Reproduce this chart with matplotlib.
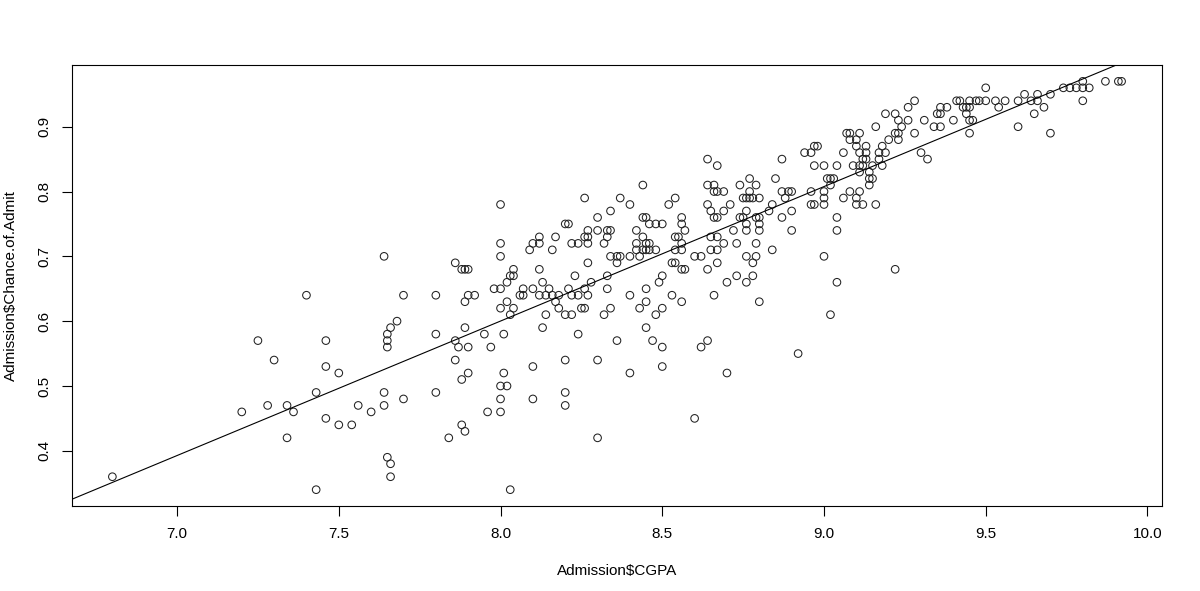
import numpy as np
import matplotlib
matplotlib.use('Agg')
import matplotlib.pyplot as plt

# values (CGPA, chance of admit)
cgpa = [
    6.80, 7.20, 7.25, 7.28, 7.30, 7.34, 7.34, 7.36, 7.40, 7.43, 7.43, 7.46, 7.46, 7.46,
    7.50, 7.50, 7.54, 7.56, 7.60, 7.64, 7.64, 7.64, 7.65, 7.65, 7.65, 7.65, 7.66, 7.66,
    7.66, 7.68, 7.70, 7.70, 7.80, 7.80, 7.80, 7.84, 7.86, 7.86, 7.86, 7.87, 7.88, 7.88,
    7.88, 7.89, 7.89, 7.89, 7.89, 7.90, 7.90, 7.90, 7.90, 7.92,
    8.00, 8.26, 8.30, 8.20, 8.21, 8.00, 8.10, 8.12, 8.09, 8.12, 8.17, 8.16, 8.22, 8.24,
    8.27, 8.26, 8.27, 8.27, 8.30, 8.00, 8.27, 8.04, 8.03, 8.04, 8.12, 8.02, 8.13, 8.23,
    8.28, 7.98, 8.00, 8.07, 8.06, 8.07, 8.10, 8.15, 8.12, 8.14, 8.16, 8.18, 8.21, 8.22,
    8.24, 8.26, 8.27, 8.00, 8.02, 8.04, 8.17, 8.18, 8.03, 8.14, 8.20, 8.22, 8.25, 8.26,
    8.13, 7.95, 8.01, 8.24, 7.97,
    8.01, 8.10, 8.20, 8.30, 8.00, 8.02, 8.00, 8.10, 8.20, 8.20, 7.96, 8.00, 8.30, 8.03,
    8.64, 8.67, 8.44, 8.64, 8.66, 8.66, 8.67, 8.37, 8.54, 8.40, 8.52, 8.64, 8.65, 8.34,
    8.44, 8.45, 8.56, 8.66, 8.67, 8.46, 8.48, 8.50, 8.56, 8.57, 8.33, 8.34, 8.42, 8.33,
    8.44, 8.54, 8.55, 8.32, 8.42, 8.45, 8.46, 8.56, 8.65, 8.67, 8.42, 8.44, 8.45, 8.46,
    8.48, 8.54, 8.56, 8.65, 8.67, 8.34, 8.36, 8.37, 8.40, 8.43, 8.36, 8.60, 8.62, 8.53,
    8.54, 8.67, 8.33, 8.50, 8.49, 8.56, 8.57, 8.64, 8.33, 8.45, 8.40, 8.53, 8.66,
    8.56, 8.45, 8.34, 8.43, 8.50, 8.32, 8.48, 8.45, 8.36, 8.47, 8.50, 8.62, 8.64, 8.40,
    8.50, 8.60,
    8.97, 8.98, 8.94, 8.96, 8.87, 8.97, 9.00, 9.04, 8.77, 8.85, 8.74, 8.79, 9.01, 9.02,
    9.03, 8.69, 8.77, 8.87, 8.89, 8.90, 8.96, 9.00, 9.02, 8.75, 8.76, 8.77, 8.78, 8.80,
    8.88, 9.00, 8.71, 8.84, 8.96, 8.97, 9.00, 8.69, 8.76, 8.83, 8.90, 8.74, 8.75, 8.79,
    8.80, 8.87, 9.04, 8.76, 8.80, 8.72, 8.76, 8.80, 8.90, 9.04, 8.69, 8.73, 8.79, 8.84,
    8.76, 8.79, 9.00, 8.78, 8.73, 8.78, 8.70, 8.76, 9.04, 8.80, 9.02, 8.92, 8.70,
    9.28, 9.26, 9.36, 9.38, 9.41, 9.19, 9.22, 9.35, 9.36, 9.23, 9.26, 9.31, 9.40, 9.16,
    9.24, 9.34, 9.36, 9.07, 9.08, 9.11, 9.22, 9.23, 9.28, 9.08, 9.10, 9.20, 9.23, 9.10,
    9.13, 9.18, 9.06, 9.11, 9.13, 9.17, 9.19, 9.30, 9.12, 9.13, 9.17, 9.32, 9.09, 9.11,
    9.12, 9.15, 9.18, 9.11, 9.14, 9.14, 9.15, 9.14, 9.08, 9.11, 9.06, 9.10, 9.10, 9.12,
    9.16, 9.22,
    9.87, 9.91, 9.92, 9.80, 9.74, 9.76, 9.78, 9.80, 9.82, 9.50, 9.62, 9.66, 9.70, 9.42,
    9.45, 9.47, 9.48, 9.50, 9.53, 9.56, 9.60, 9.64, 9.66, 9.80, 9.43, 9.44, 9.45, 9.54,
    9.68, 9.44, 9.65, 9.45, 9.46, 9.60, 9.45, 9.70,
]
chance = [
    0.36, 0.46, 0.57, 0.47, 0.54, 0.47, 0.42, 0.46, 0.64, 0.34, 0.49, 0.57, 0.45, 0.53,
    0.44, 0.52, 0.44, 0.47, 0.46, 0.70, 0.47, 0.49, 0.56, 0.57, 0.58, 0.39, 0.38, 0.36,
    0.59, 0.60, 0.64, 0.48, 0.64, 0.58, 0.49, 0.42, 0.69, 0.57, 0.54, 0.56, 0.68, 0.51,
    0.44, 0.68, 0.63, 0.59, 0.43, 0.68, 0.64, 0.56, 0.52, 0.64,
    0.78, 0.79, 0.76, 0.75, 0.75, 0.72, 0.72, 0.73, 0.71, 0.72, 0.73, 0.71, 0.72, 0.72,
    0.73, 0.73, 0.74, 0.72, 0.74, 0.70, 0.69, 0.68, 0.67, 0.67, 0.68, 0.66, 0.66, 0.67,
    0.66, 0.65, 0.65, 0.65, 0.64, 0.64, 0.65, 0.65, 0.64, 0.64, 0.64, 0.64, 0.65, 0.64,
    0.64, 0.65, 0.64, 0.62, 0.63, 0.62, 0.63, 0.62, 0.61, 0.61, 0.61, 0.61, 0.62, 0.62,
    0.59, 0.58, 0.58, 0.58, 0.56,
    0.52, 0.53, 0.54, 0.54, 0.50, 0.50, 0.48, 0.48, 0.49, 0.47, 0.46, 0.46, 0.42, 0.34,
    0.85, 0.84, 0.81, 0.81, 0.81, 0.80, 0.80, 0.79, 0.79, 0.78, 0.78, 0.78, 0.77, 0.77,
    0.76, 0.76, 0.76, 0.76, 0.76, 0.75, 0.75, 0.75, 0.75, 0.74, 0.74, 0.74, 0.74, 0.73,
    0.73, 0.73, 0.73, 0.72, 0.72, 0.72, 0.72, 0.72, 0.73, 0.73, 0.71, 0.71, 0.71, 0.71,
    0.71, 0.71, 0.71, 0.71, 0.71, 0.70, 0.70, 0.70, 0.70, 0.70, 0.69, 0.70, 0.70, 0.69,
    0.69, 0.69, 0.67, 0.67, 0.66, 0.68, 0.68, 0.68, 0.65, 0.65, 0.64, 0.64, 0.64,
    0.63, 0.63, 0.62, 0.62, 0.62, 0.61, 0.61, 0.59, 0.57, 0.57, 0.56, 0.56, 0.57, 0.52,
    0.53, 0.45,
    0.87, 0.87, 0.86, 0.86, 0.85, 0.84, 0.84, 0.84, 0.82, 0.82, 0.81, 0.81, 0.82, 0.82,
    0.82, 0.80, 0.80, 0.80, 0.80, 0.80, 0.80, 0.80, 0.81, 0.79, 0.79, 0.79, 0.79, 0.79,
    0.79, 0.79, 0.78, 0.78, 0.78, 0.78, 0.78, 0.77, 0.77, 0.77, 0.77, 0.76, 0.76, 0.76,
    0.76, 0.76, 0.76, 0.75, 0.75, 0.74, 0.74, 0.74, 0.74, 0.74, 0.72, 0.72, 0.72, 0.71,
    0.70, 0.70, 0.70, 0.69, 0.67, 0.67, 0.66, 0.66, 0.66, 0.63, 0.61, 0.55, 0.52,
    0.94, 0.93, 0.93, 0.93, 0.94, 0.92, 0.92, 0.92, 0.92, 0.91, 0.91, 0.91, 0.91, 0.90,
    0.90, 0.90, 0.90, 0.89, 0.89, 0.89, 0.89, 0.89, 0.89, 0.88, 0.88, 0.88, 0.88, 0.87,
    0.87, 0.87, 0.86, 0.86, 0.86, 0.86, 0.86, 0.86, 0.85, 0.85, 0.85, 0.85, 0.84, 0.84,
    0.84, 0.84, 0.84, 0.83, 0.83, 0.82, 0.82, 0.81, 0.80, 0.80, 0.79, 0.79, 0.78, 0.78,
    0.78, 0.68,
    0.97, 0.97, 0.97, 0.97, 0.96, 0.96, 0.96, 0.96, 0.96, 0.96, 0.95, 0.95, 0.95, 0.94,
    0.94, 0.94, 0.94, 0.94, 0.94, 0.94, 0.94, 0.94, 0.94, 0.94, 0.93, 0.93, 0.93, 0.93,
    0.93, 0.92, 0.92, 0.91, 0.91, 0.90, 0.89, 0.89,
]

x = np.array(cgpa)
y = np.array(chance)

plt.rcParams['font.family'] = ['Liberation Sans', 'DejaVu Sans']

fig = plt.figure(figsize=(12, 5.91), dpi=100)
ax = fig.add_axes([0.06, 0.1438, 0.9083, 0.7462])

ax.scatter(x, y, s=30, facecolors='none', edgecolors='#222222', linewidths=0.75)

# R-style axis range: data range padded by 4%
xpad = (x.max() - x.min()) * 0.04
ypad = (y.max() - y.min()) * 0.04
ax.set_xlim(x.min() - xpad, x.max() + xpad)
ax.set_ylim(y.min() - ypad, y.max() + ypad)

# abline(lm(...))
slope, intercept = np.polyfit(x, y, 1)
xl = np.array(ax.get_xlim())
ax.plot(xl, intercept + slope * xl, color='black', linewidth=0.8)

ax.set_xticks([7.0, 7.5, 8.0, 8.5, 9.0, 9.5, 10.0])
ax.set_xticklabels(['7.0', '7.5', '8.0', '8.5', '9.0', '9.5', '10.0'])
ax.set_yticks([0.4, 0.5, 0.6, 0.7, 0.8, 0.9])
ax.set_yticklabels(['0.4', '0.5', '0.6', '0.7', '0.8', '0.9'], rotation=90, va='center')
ax.tick_params(direction='out', length=7, width=0.8, labelsize=11, pad=8)

for s in ax.spines.values():
    s.set_linewidth(0.8)

ax.set_xlabel(r'Admission\$CGPA', fontsize=11, labelpad=17)
ax.set_ylabel(r'Admission\$Chance.of.Admit', fontsize=11, labelpad=14)

plt.savefig('out.png', dpi=100)
